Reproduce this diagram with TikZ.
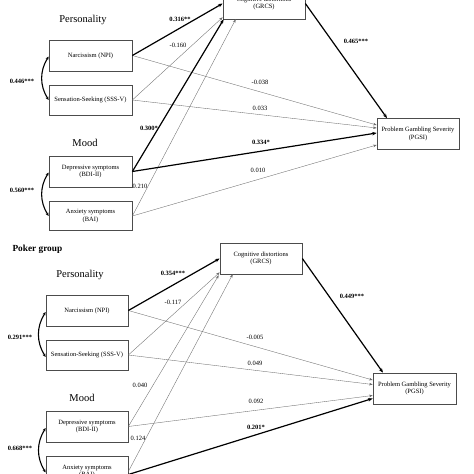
\documentclass[tikz,border=0pt]{standalone}
\usepackage{fontspec}
\setmainfont{Liberation Serif}
\usetikzlibrary{arrows.meta}
\begin{document}
\begin{tikzpicture}[x=1pt,y=-1pt,
  box/.style={draw=gray!60!black,line width=0.7pt,fill=white,minimum width=82pt,minimum height=31pt,inner sep=1pt,align=center,font=\fontsize{6.5}{7.8}\selectfont},
  thin/.style={draw=gray!85!black,line width=0.35pt,-{Stealth[length=3.5pt,width=2.6pt]}},
  strong/.style={draw=black,line width=1.2pt,-{Stealth[length=4.5pt,width=3.5pt]}},
  cov/.style={draw=black,line width=1.1pt,{Stealth[length=3.5pt,width=3pt]}-{Stealth[length=3.5pt,width=3pt]}},
  lab/.style={font=\fontsize{6.5}{7.5}\selectfont,inner sep=0.5pt},
  blab/.style={font=\fontsize{6.5}{7.5}\selectfont\bfseries,inner sep=0.5pt},
  head/.style={font=\fontsize{10.5}{12}\selectfont}]
\fill[white] (0,0) rectangle (474,474);
\useasboundingbox (0,0) rectangle (474,474);
% ---------- top group ----------
\node[head] (persA) at (83,20) {Personality};
\node[head] (moodA) at (85,143) {Mood};
\node[box] (grcsA) at (264,3.5) {Cognitive distortions\\(GRCS)};
\node[box,minimum width=83pt] (npiA) at (90.5,55.5) {Narcissism (NPI)};
\node[box,minimum width=83pt,minimum height=30pt] (sssA) at (90.5,100) {Sensation-Seeking (SSS-V)};
\node[box,minimum width=83pt] (depA) at (90.5,171.5) {Depressive symptoms\\(BDI-II)};
\node[box,minimum width=83pt,minimum height=29pt] (anxA) at (90.5,216) {Anxiety symptoms\\(BAI)};
\node[box] (pgsiA) at (418,134) {Problem Gambling Severity\\(PGSI)};

\draw[thin] (npiA.east) -- ([yshift=9pt]pgsiA.west);
\draw[thin] (sssA.east) -- ([yshift=6pt]pgsiA.west);
\draw[thin] (anxA.east) -- ([yshift=-11pt]pgsiA.west);
\draw[thin] (sssA.east) -- ([yshift=2pt]grcsA.south west);
\draw[thin] (anxA.east) -- ([xshift=13pt]grcsA.south west);
\draw[strong] (npiA.east) -- (grcsA.west);
\draw[strong] (depA.east) -- ([xshift=1pt]grcsA.south west);
\draw[strong] (depA.east) -- ([yshift=1pt]pgsiA.west);
\draw[strong] (grcsA.east) -- ([xshift=-31pt]pgsiA.north);
\draw[cov] ([yshift=-1pt]npiA.west) to[bend right=32] (sssA.west);
\draw[cov] ([yshift=-1pt]depA.west) to[bend right=32] (anxA.west);

\node[blab] (l1) at (180,19) {0.316**};
\node[lab] (l2) at (178,45) {-0.160};
\node[blab] (l3) at (149,128) {0.300*};
\node[lab] (l4) at (140,186) {0.210};
\node[lab] (l5) at (260,82) {-0.038};
\node[lab] (l6) at (260,108) {0.033};
\node[blab] (l7) at (356,41) {0.465***};
\node[blab] (l8) at (261,142) {0.334*};
\node[lab] (l9) at (258,170) {0.010};
\node[blab] (l10) at (22,81) {0.446***};
\node[blab] (l11) at (22,190) {0.560***};

% ---------- poker group ----------
\node[font=\fontsize{9.3}{11}\selectfont\bfseries,anchor=west] (poker) at (9,249.5) {Poker group};
\node[head] (persB) at (80,275) {Personality};
\node[head] (moodB) at (82,398) {Mood};
\node[box] (grcsB) at (261,258.5) {Cognitive distortions\\(GRCS)};
\node[box] (npiB) at (87,310.5) {Narcissism (NPI)};
\node[box,minimum height=30pt] (sssB) at (87,355) {Sensation-Seeking (SSS-V)};
\node[box] (depB) at (87,426.5) {Depressive symptoms\\(BDI-II)};
\node[box] (anxB) at (87,471.5) {Anxiety symptoms\\(BAI)};
\node[box,minimum width=83pt] (pgsiB) at (414.5,388.5) {Problem Gambling Severity\\(PGSI)};

\draw[thin] (npiB.east) -- ([yshift=8.5pt]pgsiB.west);
\draw[thin] (sssB.east) -- ([yshift=4pt]pgsiB.west);
\draw[thin] (depB.east) -- ([yshift=-7pt]pgsiB.west);
\draw[thin] (sssB.east) -- ([yshift=2pt]grcsB.south west);
\draw[thin] (depB.east) -- ([xshift=-1pt,yshift=-1pt]grcsB.south west);
\draw[thin] (anxB.east) -- ([xshift=13pt]grcsB.south west);
\draw[strong] (npiB.east) -- (grcsB.west);
\draw[strong] ([yshift=-3pt]anxB.east) -- ([yshift=-10pt]pgsiB.west);
\draw[strong] (grcsB.east) -- ([xshift=-31.5pt]pgsiB.north);
\draw[cov] ([yshift=-1.5pt]npiB.west) to[bend right=32] ([yshift=-2pt]sssB.west);
\draw[cov] ([yshift=-1.5pt]depB.west) to[bend right=32] ([yshift=-1pt]anxB.west);

\node[blab] (m1) at (173,273) {0.354***};
\node[lab] (m2) at (173,302) {-0.117};
\node[lab] (m3) at (140,385) {0.040};
\node[lab] (m4) at (138,438) {0.124};
\node[blab] (m5) at (352,296) {0.449***};
\node[lab] (m6) at (255,337) {-0.005};
\node[lab] (m7) at (255,363) {0.049};
\node[lab] (m8) at (256,401) {0.092};
\node[blab] (m9) at (256,427) {0.201*};
\node[blab] (m10) at (20,337) {0.291***};
\node[blab] (m11) at (20,448) {0.668***};
\end{tikzpicture}
\end{document}
